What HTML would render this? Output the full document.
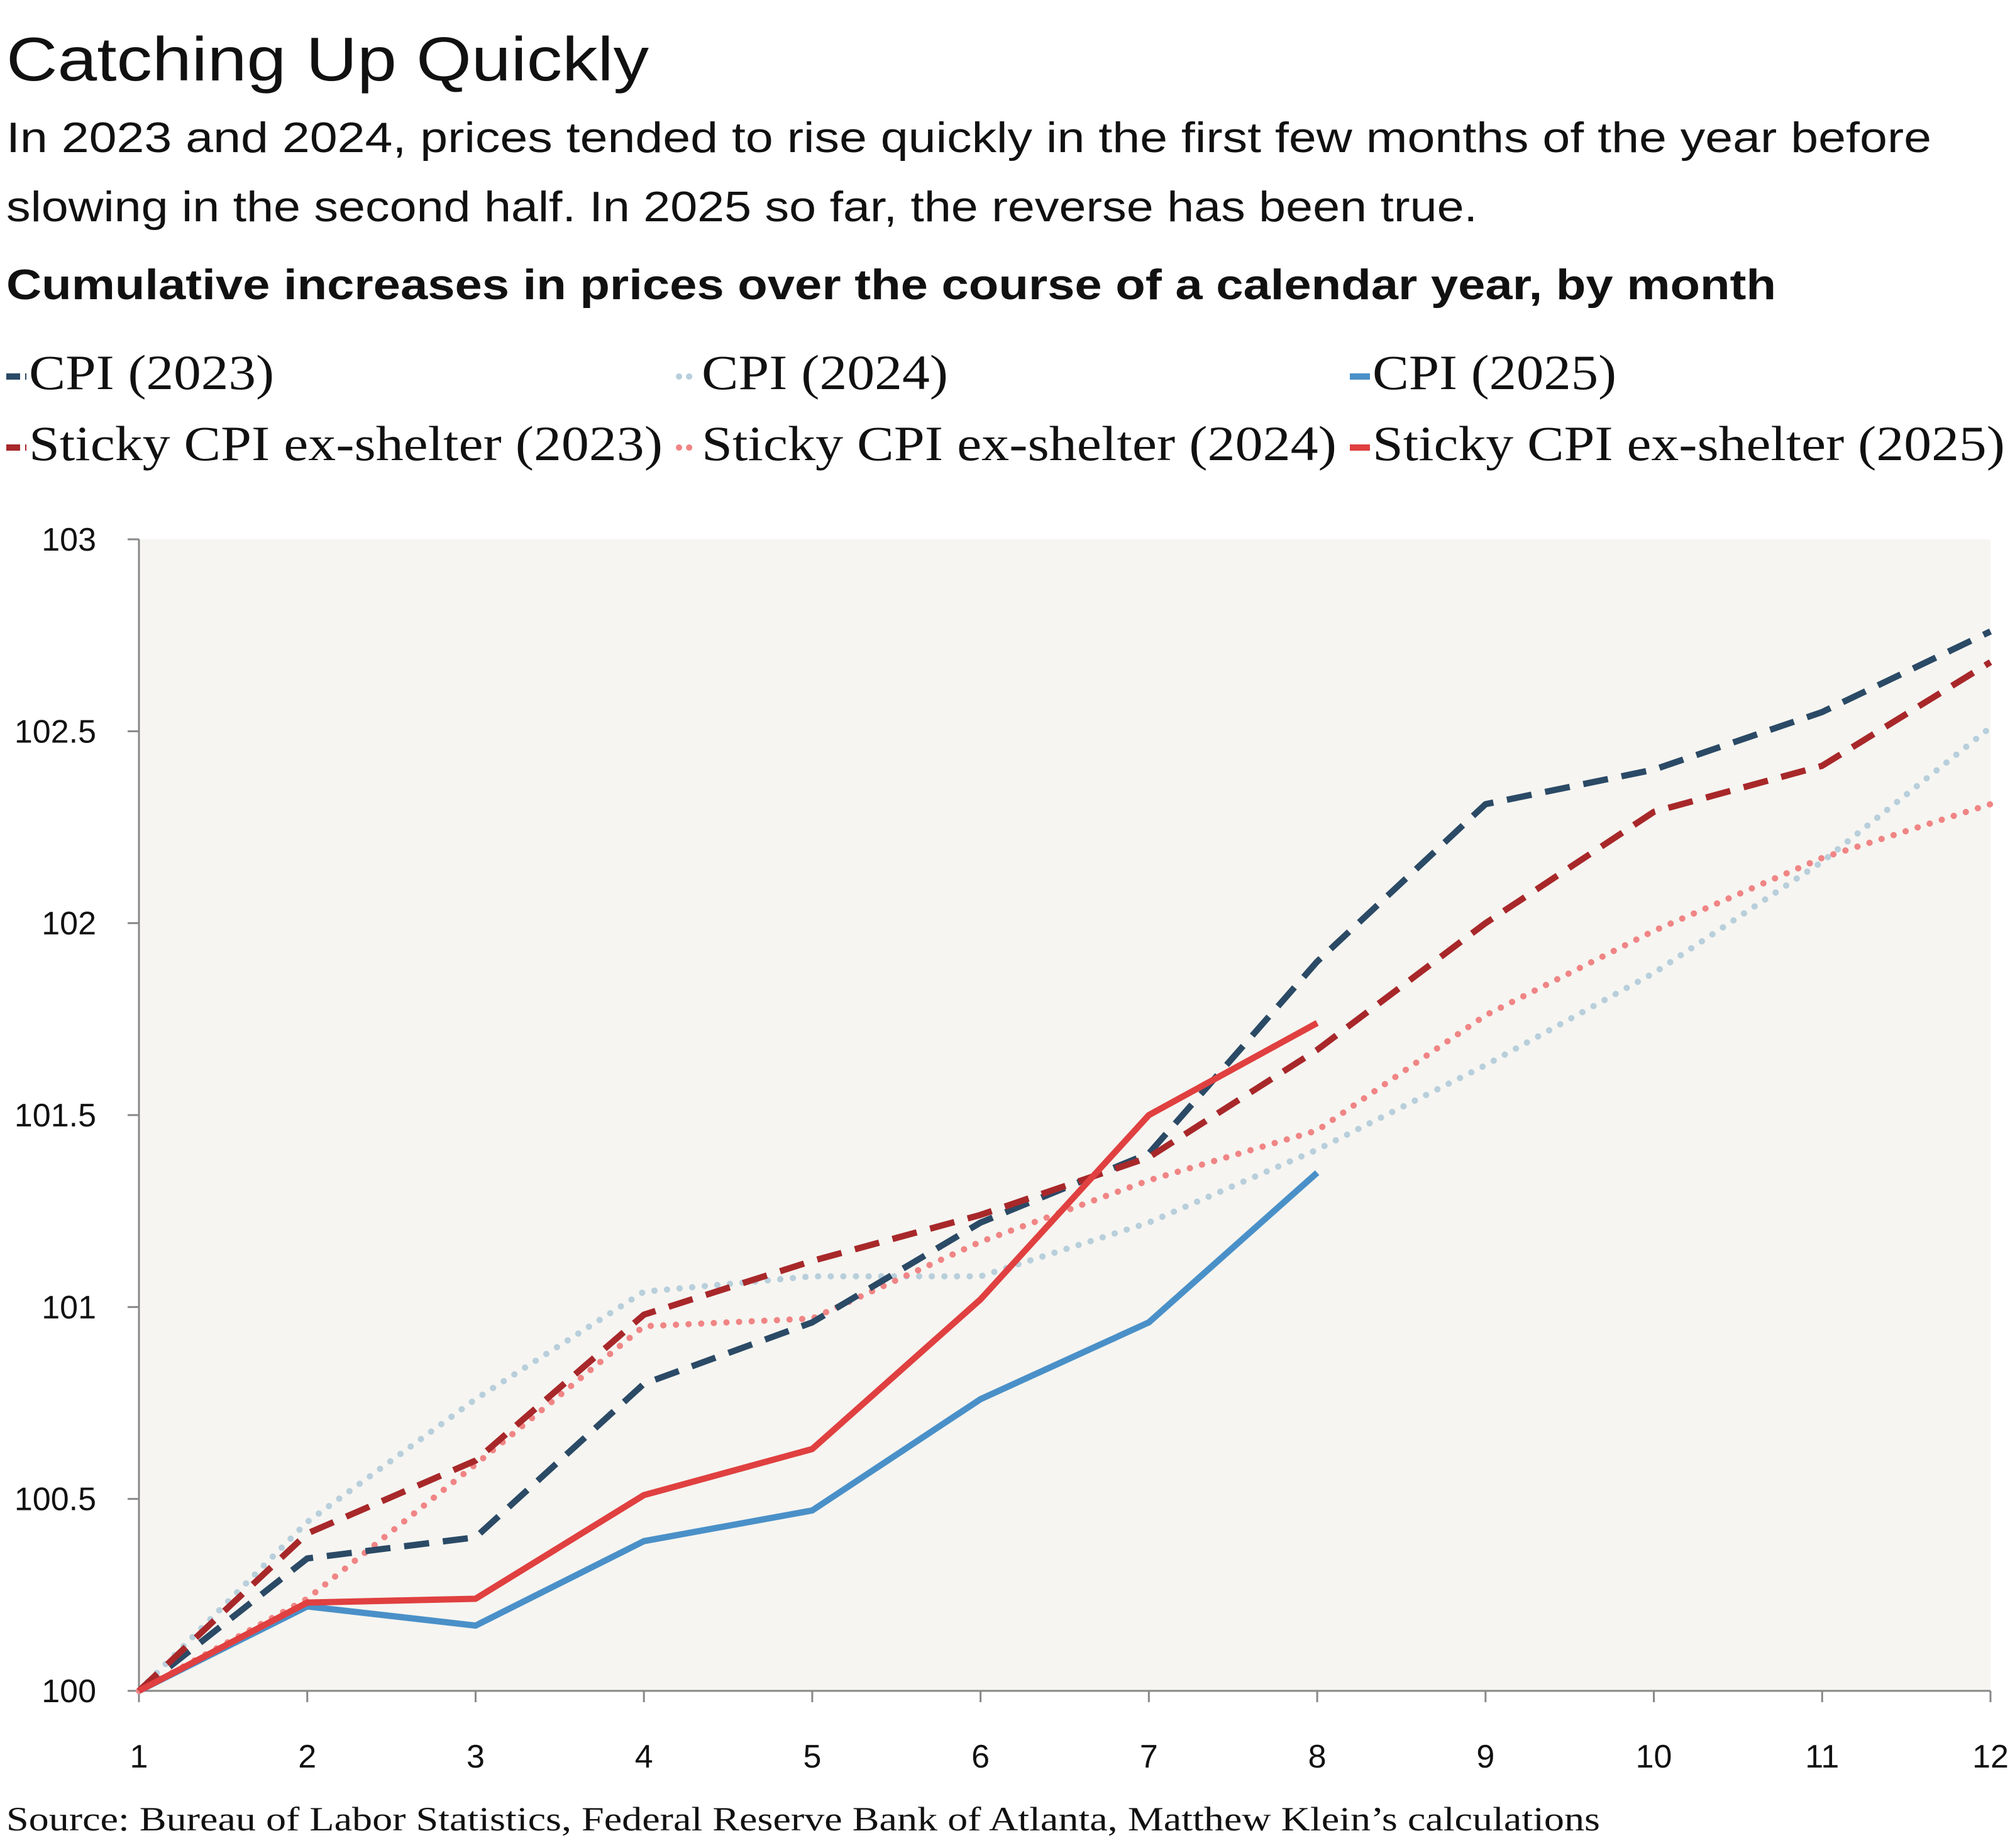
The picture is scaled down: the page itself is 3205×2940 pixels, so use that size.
<!DOCTYPE html>
<html><head><meta charset="utf-8"><style>
html,body{margin:0;padding:0;background:#fff;}
svg{display:block;}
.sans{font-family:"Liberation Sans",sans-serif;}
.serif{font-family:"Liberation Serif",serif;}
</style></head><body>
<svg id="chart" width="3205" height="2940" viewBox="0 0 3205 2940" xmlns="http://www.w3.org/2000/svg">
<text class="sans" x="10" y="128" font-size="98" fill="#111" textLength="1022" lengthAdjust="spacingAndGlyphs">Catching Up Quickly</text>
<text class="sans" x="10" y="242" font-size="68" fill="#111" textLength="3062" lengthAdjust="spacingAndGlyphs">In 2023 and 2024, prices tended to rise quickly in the first few months of the year before</text>
<text class="sans" x="10" y="352" font-size="68" fill="#111" textLength="2340" lengthAdjust="spacingAndGlyphs">slowing in the second half. In 2025 so far, the reverse has been true.</text>
<text class="sans" x="10" y="476" font-size="68" font-weight="bold" fill="#111" textLength="2815" lengthAdjust="spacingAndGlyphs">Cumulative increases in prices over the course of a calendar year, by month</text>
<g id="legend"></g>
<rect x="221" y="858" width="2945" height="1832" fill="#f6f5f1"/>
<g id="axes"></g>
<g id="series"></g>
<text class="serif" x="10" y="2912" font-size="54" fill="#111" textLength="2535" lengthAdjust="spacingAndGlyphs">Source: Bureau of Labor Statistics, Federal Reserve Bank of Atlanta, Matthew Klein’s calculations</text>
</svg>
<script>
const months=[1,2,3,4,5,6,7,8,9,10,11,12];
const yTicks=[100,100.5,101,101.5,102,102.5,103];
const yTickLabels=["100","100.5","101","101.5","102","102.5","103"];
const cpi2023=[100,100.345,100.40,100.80,100.96,101.22,101.40,101.90,102.31,102.40,102.55,102.76];
const cpi2024=[100,100.44,100.76,101.04,101.08,101.08,101.22,101.41,101.63,101.87,102.16,102.51];
const cpi2025=[100,100.22,100.17,100.39,100.47,100.76,100.96,101.35];
const sticky2023=[100,100.41,100.60,100.98,101.12,101.24,101.39,101.67,102.0,102.29,102.41,102.68];
const sticky2024=[100,100.24,100.59,100.95,100.97,101.17,101.33,101.46,101.76,101.98,102.17,102.31];
const sticky2025=[100,100.23,100.24,100.51,100.63,101.02,101.50,101.74];
const seriesNames=["CPI (2023)","CPI (2024)","CPI (2025)","Sticky CPI ex-shelter (2023)","Sticky CPI ex-shelter (2024)","Sticky CPI ex-shelter (2025)"];
const NS="http://www.w3.org/2000/svg";
const X0=221,X1=3166,Y0=2690,Y1=858;
const x=m=>X0+(m-1)/11*(X1-X0);
const y=v=>Y0-(v-100)/3*(Y0-Y1);
function mk(tag,attrs,parent){const e=document.createElementNS(NS,tag);for(const k in attrs)e.setAttribute(k,attrs[k]);parent.appendChild(e);return e;}
const axes=document.getElementById('axes');
const ax=mk('line',{x1:X0,y1:Y1,x2:X0,y2:Y0,stroke:'#888','stroke-width':3},axes);


const bx=mk('line',{x1:X0,y1:Y0,x2:X1,y2:Y0,stroke:'#888','stroke-width':3},axes);


yTicks.forEach((v,i)=>{
 const t=mk('line',{x1:X0-18,y1:y(v),x2:X0,y2:y(v),stroke:'#888','stroke-width':3},axes);
 
 
 const l=mk('text',{x:153,y:y(v)+18,'font-size':52,'text-anchor':'end',fill:'#111',class:'sans'},axes);
 l.textContent=yTickLabels[i];
 
 
});
months.forEach(m=>{
 const t=mk('line',{x1:x(m),y1:Y0,x2:x(m),y2:Y0+18,stroke:'#888','stroke-width':3},axes);
 
 
 const l=mk('text',{x:x(m),y:2812,'font-size':52,'text-anchor':'middle',fill:'#111',class:'sans'},axes);
 l.textContent=String(m);
 
 
});
const styles=[
 {c:'#2b4a66',d:'40 22',cap:'butt'},
 {c:'#b8cfdc',d:'0.1 20',cap:'round'},
 {c:'#4a90c8',d:'',cap:'butt'},
 {c:'#a8282a',d:'40 22',cap:'butt'},
 {c:'#f08585',d:'0.1 20',cap:'round'},
 {c:'#e04040',d:'',cap:'butt'}];
const data=[cpi2023,cpi2024,cpi2025,sticky2023,sticky2024,sticky2025];
const order=[1,4,0,3,2,5];
const sg=document.getElementById('series');
order.forEach(i=>{
 const pts=data[i].map((v,k)=>x(months[k])+','+y(v)).join(' ');
 const p=mk('polyline',{points:pts,fill:'none',stroke:styles[i].c,'stroke-width':10,'stroke-dasharray':styles[i].d,'stroke-linecap':styles[i].cap,'stroke-linejoin':'round'},sg);
 
 
});
const lg=document.getElementById('legend');
const colX=[10,1080,2147],rowY=[619,732];
const legW=[390,392,388,1008,1010,1006];
seriesNames.forEach((n,i)=>{
 const cx=colX[i%3],cy=rowY[Math.floor(i/3)];
 const s=styles[i];
 const m=mk('line',{x1:cx,y1:cy-20,x2:cx+32,y2:cy-20,stroke:s.c,'stroke-width':10,'stroke-linecap':s.cap,'stroke-dasharray':s.d?(s.cap==='round'?'0.1 16':'22 8'):''},lg);
 
 
 const t=mk('text',{x:cx+36,y:cy,'font-size':78,fill:'#111',class:'serif',textLength:legW[i],lengthAdjust:'spacingAndGlyphs'},lg);
 t.textContent=n;
 
 
});
</script>
</body></html>
